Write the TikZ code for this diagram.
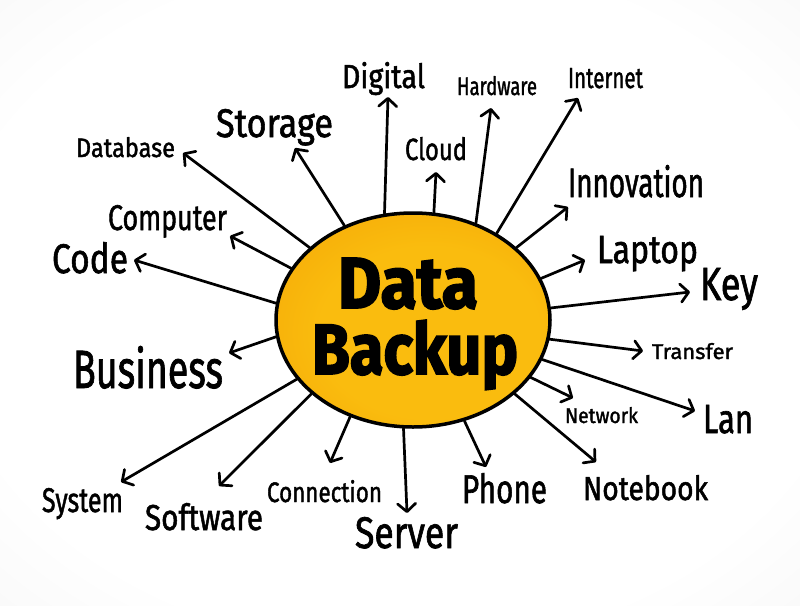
\documentclass[tikz,border=0pt]{standalone}
\usepackage{fontspec}
\setmainfont{Fira Sans}[FakeBold=1.6]
\newfontfamily\hubfont{Fira Sans}[FakeBold=2.5]
\usetikzlibrary{shapes.geometric,arrows.meta}
\definecolor{bgout}{RGB}{232,232,232}
\definecolor{orin}{RGB}{250,188,14}
\definecolor{orout}{RGB}{240,150,0}
\pgfdeclareradialshading{bgshade}{\pgfpoint{0bp}{0bp}}{color(0bp)=(white); color(28bp)=(white); color(62bp)=(bgout); color(75bp)=(bgout)}
\pgfdeclareradialshading{orshade}{\pgfpoint{4bp}{-4bp}}{color(0bp)=(orin); color(20bp)=(orin); color(52bp)=(orout); color(75bp)=(orout)}
\newcommand{\lbl}[3]{\resizebox{#1pt}{#2pt}{#3}}
\tikzset{
  lab/.style={anchor=base west, inner sep=0pt, outer sep=0pt},
  arr/.style={line width=2.7pt, line cap=round, -{Straight Barb[length=8pt,width=18pt,round]}},
  hub/.style={ellipse, draw, line width=3.5pt, shade, shading=orshade, minimum width=274pt, minimum height=214pt, inner sep=0pt}
}
\begin{document}
\begin{tikzpicture}[x=1pt,y=-1pt]
\useasboundingbox (0,0) rectangle (800,605);
\shade[shading=bgshade] (0,0) rectangle (800,605);

\node[hub] (c) at (413,320) {};
\node[lab] (data) at (338,308) {\lbl{140}{50}{\hubfont\bfseries Data}};
\node[lab] (backup) at (312,374) {\lbl{206}{54}{\hubfont\bfseries Backup}};

% labels
\node[lab] (digital) at (342,88) {\lbl{83}{26}{Digital}};
\node[lab] (storage) at (216,137) {\lbl{117}{28}{Storage}};
\node[lab] (database) at (76,157) {\lbl{99}{20}{Database}};
\node[lab] (computer) at (108,230) {\lbl{119}{25}{Computer}};
\node[lab] (code) at (52,273) {\lbl{76}{31}{Code}};
\node[lab] (business) at (73,388) {\lbl{150}{42}{Business}};
\node[lab] (system) at (42,512) {\lbl{81}{24}{System}};
\node[lab] (software) at (145,530) {\lbl{118}{27}{Software}};
\node[lab] (connection) at (267,502) {\lbl{115}{22}{Connection}};
\node[lab] (server) at (355,548) {\lbl{103}{31}{Server}};
\node[lab] (phone) at (462,503) {\lbl{85}{30}{Phone}};
\node[lab] (notebook) at (583,500) {\lbl{125}{25}{Notebook}};
\node[lab] (network) at (565,423) {\lbl{73}{16}{Network}};
\node[lab] (lan) at (703,433) {\lbl{50}{28}{Lan}};
\node[lab] (transfer) at (652,359) {\lbl{81}{16}{Transfer}};
\node[lab] (key) at (700,300) {\lbl{58}{32}{Key}};
\node[lab] (laptop) at (597,263) {\lbl{101}{27}{Laptop}};
\node[lab] (innovation) at (568,197) {\lbl{136}{32}{Innovation}};
\node[lab] (internet) at (568,88) {\lbl{75}{20}{Internet}};
\node[lab] (hardware) at (457,95) {\lbl{80}{19}{Hardware}};
\node[lab] (cloud) at (405,160) {\lbl{62}{23}{Cloud}};

% arrow tips
\coordinate (tdigital) at (388,97);
\coordinate (tstorage) at (295,148);
\coordinate (tdatabase) at (183,153);
\coordinate (tcomputer) at (230,236);
\coordinate (tcode) at (134,260);
\coordinate (tbusiness) at (229,353);
\coordinate (tsystem) at (121,482);
\coordinate (tsoftware) at (219,486);
\coordinate (tconnection) at (330,463);
\coordinate (tserver) at (407,513);
\coordinate (tphone) at (486,467);
\coordinate (tnotebook) at (596,462);
\coordinate (tnetwork) at (573,398);
\coordinate (tlan) at (695,411);
\coordinate (ttransfer) at (643,351);
\coordinate (tkey) at (690,292);
\coordinate (tlaptop) at (585,260);
\coordinate (tinnovation) at (568,207);
\coordinate (tinternet) at (578,98);
\coordinate (thardware) at (491,108);
\coordinate (tcloud) at (436,172);

\draw[arr] (c.105) -- (tdigital);
\draw[arr] (c.126) -- (tstorage);
\draw[arr] (c.145) -- (tdatabase);
\draw[arr] (c.157.6) -- (tcomputer);
\draw[arr] (c.173) -- (tcode);
\draw[arr] (c.187.5) -- (tbusiness);
\draw[arr] (c.207.7) -- (tsystem);
\draw[arr] (c.216.3) -- (tsoftware);
\draw[arr] (c.237) -- (tconnection);
\draw[arr] (c.265.8) -- (tserver);
\draw[arr] (c.297.5) -- (tphone);
\draw[arr] (c.324) -- (tnotebook);
\draw[arr] (c.334.8) -- (tnetwork);
\draw[arr] (c.343.7) -- (tlan);
\draw[arr] (c.352.4) -- (ttransfer);
\draw[arr] (c.5.4) -- (tkey);
\draw[arr] (c.18.3) -- (tlaptop);
\draw[arr] (c.35.2) -- (tinnovation);
\draw[arr] (c.46) -- (tinternet);
\draw[arr] (c.57.9) -- (thardware);
\draw[arr] (c.79) -- (tcloud);
\end{tikzpicture}
\end{document}
